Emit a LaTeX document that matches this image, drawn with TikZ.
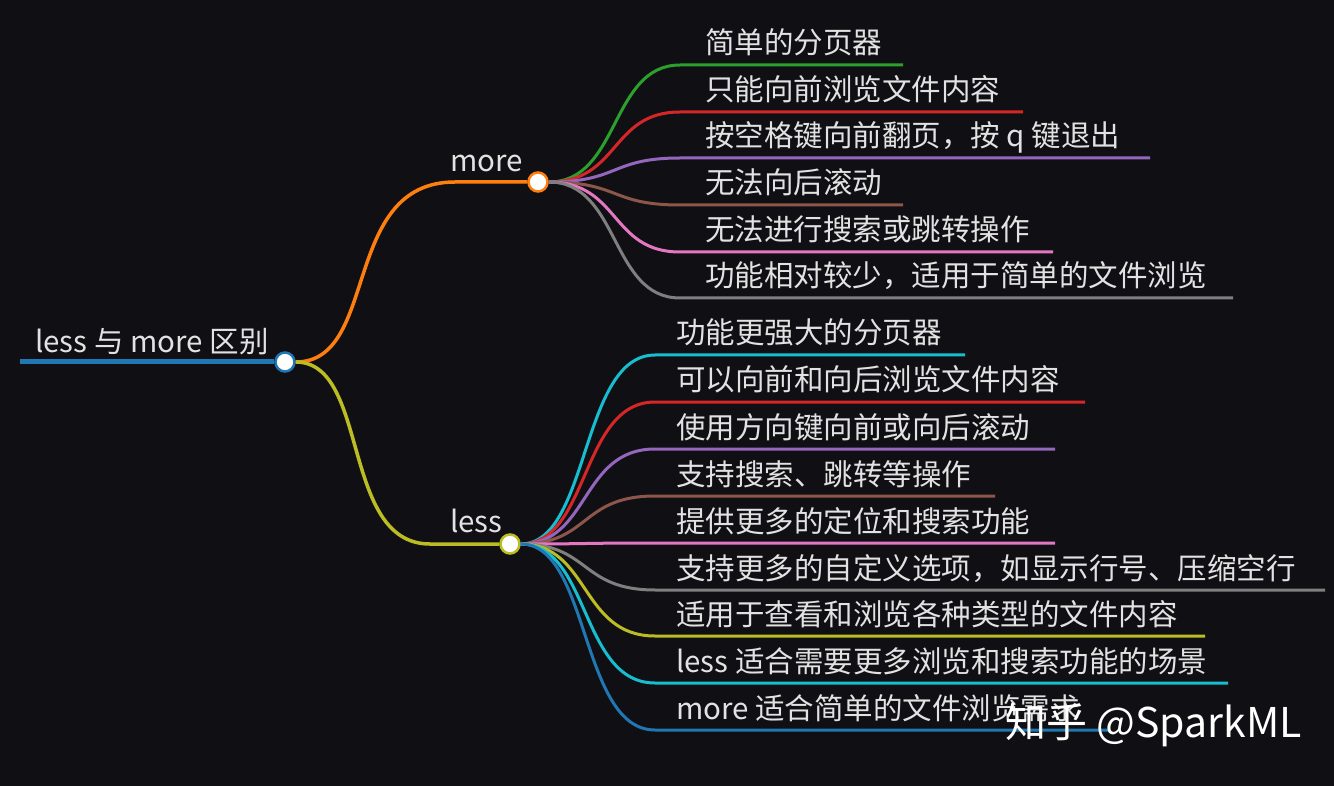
\documentclass[tikz,border=0pt]{standalone}
\usepackage{fontspec}
\setmainfont{Noto Sans CJK SC}
\definecolor{bg}{HTML}{101014}
\definecolor{tx}{HTML}{E2E2E2}
\definecolor{cblue}{HTML}{1F77B4}
\definecolor{corange}{HTML}{FF7F0E}
\definecolor{cgreen}{HTML}{2CA02C}
\definecolor{cred}{HTML}{D62728}
\definecolor{cpurple}{HTML}{9467BD}
\definecolor{cbrown}{HTML}{8C564B}
\definecolor{cpink}{HTML}{E377C2}
\definecolor{cgray}{HTML}{7F7F7F}
\definecolor{colive}{HTML}{BCBD22}
\definecolor{ccyan}{HTML}{17BECF}
\begin{document}
\begin{tikzpicture}[x=1pt,y=-1pt,
  lbl/.style={anchor=base west,inner sep=0pt,text=tx,font=\fontsize{29.5}{34}\selectfont},
  dot/.style={circle,draw=#1,fill=white,line width=2.5pt,minimum size=19pt,inner sep=0pt},
  br/.style={line width=3pt,draw=#1}]
\fill[bg] (0,0) rectangle (1334,786);
\useasboundingbox (0,0) rectangle (1334,786);
% root
\coordinate (r0) at (20,362);
\node[dot=cblue] (root) at (285,362) {};
\draw[line width=5pt,cblue] (r0) -- (root.west);
\node[lbl,font=\fontsize{29.5}{34}\selectfont] (rootT) at (35,353) {less 与 more 区别};
% main branches
\node[dot=corange] (more) at (538,182) {};
\node[dot=colive] (less) at (510,544) {};
\coordinate (m1) at (455,182);
\coordinate (l1) at (430,544);
\draw[br=corange,line width=3.5pt] (root.east) .. controls (380,362) and (340,182) .. (m1) -- (more.west);
\draw[br=colive,line width=3.5pt] (root.east) .. controls (370,362) and (340,544) .. (l1) -- (less.west);
\node[lbl] (moreT) at (450,172) {more};
\node[lbl] (lessT) at (450,532) {less};
% more children
\foreach \i/\y/\e/\c/\t in {
 a/65/903/cgreen/简单的分页器,
 b/112/1023/cred/只能向前浏览文件内容,
 c/158/1150/cpurple/{按空格键向前翻页，按 q 键退出},
 d/205/903/cbrown/无法向后滚动,
 e/252/1053/cpink/无法进行搜索或跳转操作,
 f/298/1233/cgray/{功能相对较少，适用于简单的文件浏览}}{
 \node[lbl] (mt\i) at (705,\y-11) {\t};
 \coordinate (ms\i) at (680,\y);
 \coordinate (me\i) at (\e,\y);
 \draw[br=\c] (more.east) .. controls (620,182) and (610,\y) .. (ms\i) -- (me\i);
}
% less children
\foreach \i/\y/\e/\c/\t in {
 a/355/965/ccyan/功能更强大的分页器,
 b/402/1085/cred/可以向前和向后浏览文件内容,
 c/449/1055/cpurple/使用方向键向前或向后滚动,
 d/496/995/cbrown/支持搜索、跳转等操作,
 e/543/1055/cpink/提供更多的定位和搜索功能,
 f/590/1325/cgray/{支持更多的自定义选项，如显示行号、压缩空行},
 g/636/1205/colive/适用于查看和浏览各种类型的文件内容,
 h/683/1228/ccyan/less 适合需要更多浏览和搜索功能的场景,
 i/730/1110/cblue/more 适合简单的文件浏览需求}{
 \node[lbl] (lt\i) at (676,\y-11) {\t};
 \coordinate (ls\i) at (655,\y);
 \coordinate (le\i) at (\e,\y);
 \draw[br=\c] (less.east) .. controls (590,544) and (580,\y) .. (ls\i) -- (le\i);
}
\node[anchor=base west,inner sep=0pt,text=white,font=\fontsize{41}{46}\selectfont] (wm) at (1005,737) {知乎 @SparkML};
\end{tikzpicture}
\end{document}
